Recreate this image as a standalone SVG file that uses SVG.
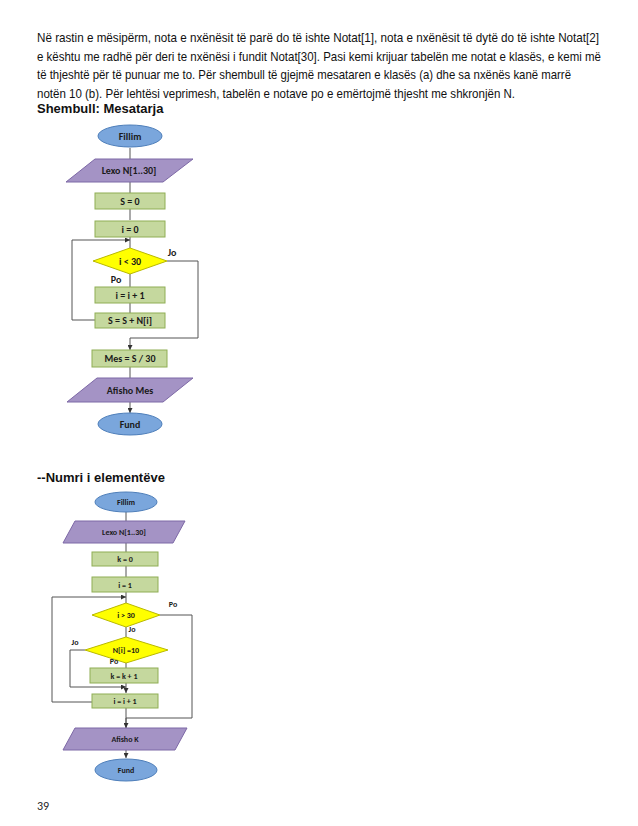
<svg xmlns="http://www.w3.org/2000/svg" width="638" height="826" viewBox="0 0 638 826">
<style>
.t{font-family:"Liberation Sans",Arial,sans-serif;font-size:13px;fill:#111}
.b{font-weight:bold}
.n{font-family:Carlito,"Liberation Sans",sans-serif;font-weight:bold;fill:#1a1a1a;text-anchor:middle}
.e{fill:#7aa6dc;stroke:#4f7fba;stroke-width:1}
.p{fill:#a493c5;stroke:#7d68a6;stroke-width:1}
.r{fill:#c5d89e;stroke:#8fae55;stroke-width:1}
.d{fill:#ffff00;stroke:#b9b900;stroke-width:1}
.c{fill:none;stroke:#555;stroke-width:1}
</style>
<defs><marker id="a" viewBox="0 0 6 6" refX="6" refY="3" markerWidth="5" markerHeight="5" orient="auto"><path d="M0,0L6,3L0,6z" fill="#333"/></marker></defs>
<rect width="638" height="826" fill="#fff"/>
<text class="t" x="37" y="42" textLength="562" lengthAdjust="spacingAndGlyphs">Në rastin e mësipërm, nota e nxënësit të parë do të  ishte Notat[1], nota e nxënësit të dytë do të ishte Notat[2]</text>
<text class="t" x="37" y="61" textLength="564" lengthAdjust="spacingAndGlyphs">e kështu me radhë për deri te nxënësi i fundit Notat[30]. Pasi kemi krijuar tabelën me notat e klasës, e kemi më</text>
<text class="t" x="37" y="79" textLength="534" lengthAdjust="spacingAndGlyphs">të thjeshtë për të punuar me to. Për shembull të gjejmë mesataren e klasës (a) dhe sa  nxënës kanë marrë</text>
<text class="t" x="37" y="98" textLength="478" lengthAdjust="spacingAndGlyphs">notën 10 (b). Për lehtësi veprimesh,  tabelën e notave po e emërtojmë thjesht me shkronjën N.</text>
<text class="t b" x="37" y="113">Shembull: Mesatarja</text>
<text class="t b" x="37" y="482">--Numri i elementëve</text>
<text x="37" y="810" style="font-family:Carlito,'Liberation Sans',sans-serif;font-size:12px;fill:#222">39</text>

<g id="connectors1">
<path class="c" d="M130,148V159M130,182V193M130,209V220M130,237V248M130,274V287M130,303V313M130,367V378M130,402V413" marker-end="url(#a)"/>
<path class="c" d="M95,320H72V240H130" marker-end="url(#a)"/>
<path class="c" d="M167,261H198V338H130V350" marker-end="url(#a)"/>
</g>
<g id="fillim1"><ellipse class="e" cx="130" cy="136" rx="32" ry="11"/><text class="n" x="130" y="140" font-size="10">Fillim</text></g>
<g id="lexo1"><path class="p" d="M95,159H193L163,182H66Z"/><text class="n" x="129" y="174" font-size="10">Lexo N[1..30]</text></g>
<g id="s0"><rect class="r" x="95" y="193" width="70" height="16"/><text class="n" x="130" y="205" font-size="10">S = 0</text></g>
<g id="i0"><rect class="r" x="95" y="221" width="70" height="16"/><text class="n" x="130" y="233" font-size="10">i = 0</text></g>
<g id="cond1"><path class="d" d="M130,248L167,261L130,274L93,261Z"/><text class="n" x="130" y="265" font-size="10">i &lt; 30</text></g>
<text class="n" x="172" y="256" font-size="10">Jo</text>
<text class="n" x="116" y="283" font-size="10">Po</text>
<g id="inc1"><rect class="r" x="95" y="287" width="70" height="16"/><text class="n" x="130" y="299" font-size="10">i = i + 1</text></g>
<g id="sum1"><rect class="r" x="95" y="313" width="70" height="15"/><text class="n" x="130" y="324" font-size="10">S = S + N[i]</text></g>
<g id="mes1"><rect class="r" x="92" y="350" width="75" height="17"/><text class="n" x="130" y="362" font-size="10">Mes = S / 30</text></g>
<g id="afisho1"><path class="p" d="M97,378H193L163,402H67Z"/><text class="n" x="130" y="394" font-size="10">Afisho Mes</text></g>
<g id="fund1"><ellipse class="e" cx="130" cy="424" rx="32" ry="11"/><text class="n" x="130" y="428" font-size="10">Fund</text></g>

<g id="connectors2">
<path class="c" d="M126,512V521M126,543V552M126,566V577M126,592V603M126,627V637M126,663V668M126,708V728M126,750V758" marker-end="url(#a)"/>
<path class="c" d="M92,702H52V597H126" marker-end="url(#a)"/>
<path class="c" d="M85,650H70V687H126" marker-end="url(#a)"/>
<path class="c" d="M126,683V693" marker-end="url(#a)"/>
<path class="c" d="M160,615H192V718H126V728" marker-end="url(#a)"/>
</g>
<g id="fillim2"><ellipse class="e" cx="126" cy="502" rx="31" ry="10"/><text class="n" x="126" y="505" font-size="8">Fillim</text></g>
<g id="lexo2"><path class="p" d="M75,521H185L173,543H63Z"/><text class="n" x="124" y="535" font-size="8">Lexo N[1..30]</text></g>
<g id="k0"><rect class="r" x="92" y="552" width="66" height="14"/><text class="n" x="125" y="562" font-size="8">k = 0</text></g>
<g id="i1"><rect class="r" x="92" y="577" width="66" height="15"/><text class="n" x="125" y="588" font-size="8">i = 1</text></g>
<g id="cond2"><path class="d" d="M126,603L160,615L126,627L92,615Z"/><text class="n" x="126" y="618" font-size="8">i &gt; 30</text></g>
<text class="n" x="173" y="607" font-size="8">Po</text>
<text class="n" x="132" y="632" font-size="8">Jo</text>
<g id="cond3"><path class="d" d="M126,637L168,650L126,663L85,650Z"/><text class="n" x="126" y="653" font-size="8">N[i] =10</text></g>
<text class="n" x="75" y="645" font-size="8">Jo</text>
<text class="n" x="114" y="664" font-size="8">Po</text>
<g id="k1"><rect class="r" x="90" y="668" width="68" height="15"/><text class="n" x="124" y="679" font-size="8">k = k + 1</text></g>
<g id="inc2"><rect class="r" x="92" y="694" width="66" height="14"/><text class="n" x="125" y="704" font-size="8">i = i + 1</text></g>
<g id="afisho2"><path class="p" d="M75,728H187L175,750H63Z"/><text class="n" x="125" y="742" font-size="8">Afisho K</text></g>
<g id="fund2"><ellipse class="e" cx="126" cy="770" rx="31" ry="11"/><text class="n" x="126" y="773" font-size="8">Fund</text></g>
</svg>
